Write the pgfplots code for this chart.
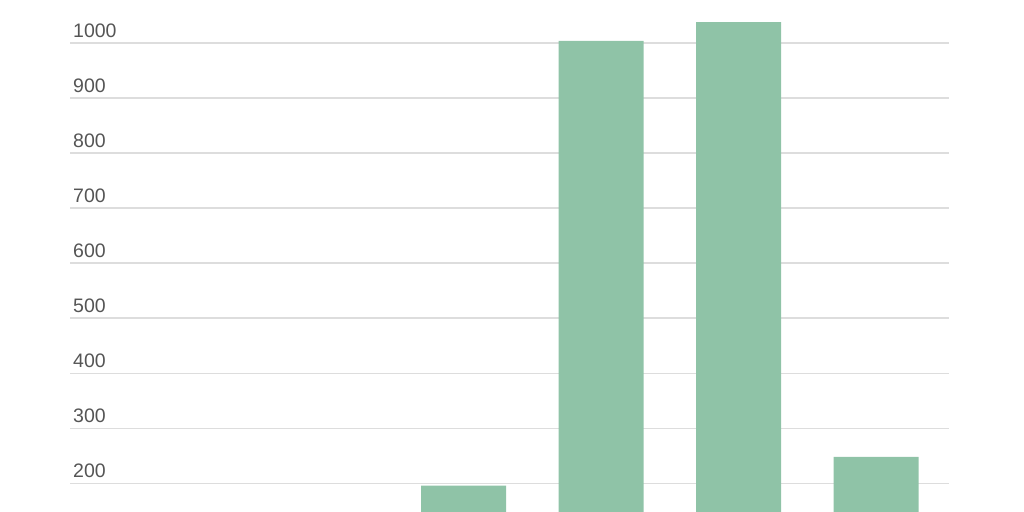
\documentclass[border=0pt]{standalone}
\usepackage{pgfplots}
\pgfplotsset{compat=1.18}
\usepackage{fontspec}
\setmainfont{Liberation Sans}
\definecolor{barcol}{HTML}{8FC3A7}
\definecolor{gridcol}{HTML}{DDDDDD}
\definecolor{labcol}{HTML}{555555}
\begin{document}
\begin{tikzpicture}[x=1bp,y=1bp]
\useasboundingbox (0,0) rectangle (1024,512);
\begin{axis}[
  at={(70bp,0bp)}, anchor=south west,
  scale only axis, width=878.5bp, height=512bp,
  xmin=-0.8618, xmax=5.527,
  ymin=147.9, ymax=1078.1,
  axis line style={draw=none},
  major tick length=0pt,
  xtick=\empty,
  ytick={200,300,...,1000},
  ymajorgrids,
  grid style={color=gridcol, line width=1.4bp},
  /pgf/number format/assume math mode=true,
  /pgf/number format/1000 sep={},
  yticklabel style={anchor=base west, inner sep=0pt, xshift=3bp, yshift=5.5bp,
    text=labcol, font=\fontsize{19.5bp}{23bp}\selectfont},
  ybar, bar width=0.618, bar shift=0pt,
]
\addplot[fill=barcol, draw=none] coordinates {(2,196) (3,1004) (4,1038) (5,248)};
\end{axis}
\end{tikzpicture}
\end{document}
